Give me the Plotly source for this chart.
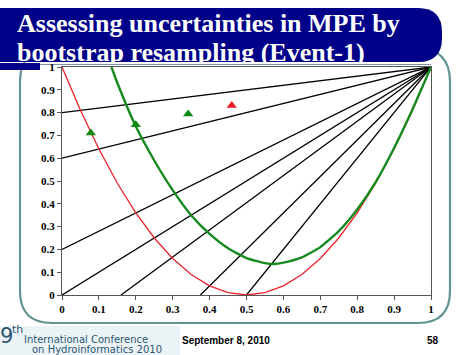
import plotly.graph_objects as go

# ---------------- data ----------------
red_x = [0, 0.05, 0.1, 0.15, 0.2, 0.25, 0.3, 0.35, 0.4, 0.45, 0.5,
         0.55, 0.6, 0.65, 0.7, 0.75, 0.8, 0.85, 0.9, 0.95, 1.0]
red_y = [1.0, 0.81, 0.64, 0.49, 0.36, 0.25, 0.16, 0.09, 0.04, 0.01, 0.0,
         0.01, 0.04, 0.09, 0.16, 0.25, 0.36, 0.49, 0.64, 0.81, 1.0]

green_x = [0.134, 0.15, 0.2, 0.25, 0.3, 0.35, 0.4, 0.45, 0.5, 0.55, 0.575,
           0.6, 0.65, 0.7, 0.75, 0.8, 0.85, 0.9, 0.95, 1.0]
green_y = [1.0, 0.93, 0.74, 0.59, 0.46, 0.35, 0.268, 0.205, 0.162, 0.14, 0.136,
           0.142, 0.165, 0.21, 0.28, 0.375, 0.495, 0.645, 0.815, 1.0]

# straight lines: start point -> common end point (1, 1)
line_start_x = [0, 0, 0, 0, 0.16, 0.375, 0.5]
line_start_y = [0.8, 0.6, 0.2, 0, 0, 0, 0]
line_end = (1.0, 1.0)

green_tri_x = [0.078, 0.2, 0.342]
green_tri_y = [0.71, 0.747, 0.794]
red_tri_x = [0.46]
red_tri_y = [0.831]

tick_vals = [0, 0.1, 0.2, 0.3, 0.4, 0.5, 0.6, 0.7, 0.8, 0.9, 1]
tick_text = ["0", "0.1", "0.2", "0.3", "0.4", "0.5", "0.6", "0.7", "0.8", "0.9", "1"]

title_lines = ["Assessing uncertainties in MPE by", "bootstrap resampling (Event-1)"]

# ---------------- layout geometry (pixels) ----------------
W, H = 474, 355
L, R, T, B = 62, 431, 67, 295


def px(x):
    return (x - L) / (R - L)


def py(y):
    return (B - y) / (B - T)


fig = go.Figure()

for sx, sy in zip(line_start_x, line_start_y):
    fig.add_trace(go.Scatter(x=[sx, line_end[0]], y=[sy, line_end[1]], mode="lines",
                             line=dict(color="black", width=1.3), showlegend=False,
                             hoverinfo="skip"))

fig.add_trace(go.Scatter(x=red_x, y=red_y, mode="lines",
                         line=dict(color="#e8242a", width=1.3), showlegend=False))
fig.add_trace(go.Scatter(x=green_x, y=green_y, mode="lines",
                         line=dict(color="#168a1e", width=2.4, shape="spline", smoothing=0.5),
                         showlegend=False))
fig.add_trace(go.Scatter(x=green_tri_x, y=green_tri_y, mode="markers",
                         marker=dict(symbol="triangle-up", size=9, color="#0e8a12"),
                         showlegend=False))
fig.add_trace(go.Scatter(x=red_tri_x, y=red_tri_y, mode="markers",
                         marker=dict(symbol="triangle-up", size=9, color="#ec1c24"),
                         showlegend=False))


def rounded_rect(x0, y0, x1, y1, r_tl, r_tr, r_br, r_bl):
    # pixel coordinates (y down) -> paper path
    pts = []
    pts.append(f"M {px(x0 + r_tl)} {py(y0)}")
    pts.append(f"L {px(x1 - r_tr)} {py(y0)}")
    pts.append(f"Q {px(x1)} {py(y0)} {px(x1)} {py(y0 + r_tr)}")
    pts.append(f"L {px(x1)} {py(y1 - r_br)}")
    pts.append(f"Q {px(x1)} {py(y1)} {px(x1 - r_br)} {py(y1)}")
    pts.append(f"L {px(x0 + r_bl)} {py(y1)}")
    pts.append(f"Q {px(x0)} {py(y1)} {px(x0)} {py(y1 - r_bl)}")
    pts.append(f"L {px(x0)} {py(y0 + r_tl)}")
    pts.append(f"Q {px(x0)} {py(y0)} {px(x0 + r_tl)} {py(y0)}")
    pts.append("Z")
    return " ".join(pts)


shapes = []
# footer light tint
shapes.append(dict(type="rect", xref="paper", yref="paper",
                   x0=px(0), x1=px(180), y0=py(355), y1=py(326),
                   fillcolor="rgba(200,220,232,0.35)", line=dict(width=0), layer="below"))
# teal frame
shapes.append(dict(type="path", xref="paper", yref="paper",
                   path=rounded_rect(20, 48, 450, 323, 34, 34, 32, 32),
                   line=dict(color="#639494", width=2.2), fillcolor="rgba(0,0,0,0)",
                   layer="below"))
# navy title box
shapes.append(dict(type="path", xref="paper", yref="paper",
                   path=rounded_rect(-10, 8, 442, 62, 0, 24, 24, 0),
                   line=dict(width=0), fillcolor="#000088", layer="above"))
# small navy bar
shapes.append(dict(type="rect", xref="paper", yref="paper",
                   x0=px(0), x1=px(40), y0=py(70), y1=py(63),
                   fillcolor="#000088", line=dict(width=0), layer="above"))
# thin rule under title
shapes.append(dict(type="line", xref="paper", yref="paper",
                   x0=px(40), x1=px(431), y0=py(64.5), y1=py(64.5),
                   line=dict(color="#8090a8", width=1), layer="below"))
fig.update_layout(shapes=shapes)

ann = []
title_font = dict(family="Liberation Serif", size=26, color="white", weight="bold")
ann.append(dict(text=title_lines[0], x=px(15), y=py(23), xref="paper", yref="paper",
                xanchor="left", yanchor="middle", showarrow=False, font=title_font))
ann.append(dict(text=title_lines[1], x=px(15), y=py(52), xref="paper", yref="paper",
                xanchor="left", yanchor="middle", showarrow=False, font=title_font,
                height=20))

foot_col = "#2a5672"
ann.append(dict(text="9", x=px(-2), y=py(336), xref="paper", yref="paper",
                xanchor="left", yanchor="middle", showarrow=False,
                font=dict(family="DejaVu Sans", size=21, color=foot_col)))
ann.append(dict(text="th", x=px(10), y=py(329), xref="paper", yref="paper",
                xanchor="left", yanchor="middle", showarrow=False,
                font=dict(family="DejaVu Sans", size=11, color=foot_col)))
ann.append(dict(text="International Conference", x=px(22), y=py(339), xref="paper",
                yref="paper", xanchor="left", yanchor="middle", showarrow=False,
                font=dict(family="DejaVu Sans", size=10, color=foot_col)))
ann.append(dict(text="on Hydroinformatics 2010", x=px(30), y=py(349), xref="paper",
                yref="paper", xanchor="left", yanchor="middle", showarrow=False,
                font=dict(family="DejaVu Sans", size=10, color=foot_col)))
ann.append(dict(text="September 8, 2010", x=px(180), y=py(340), xref="paper",
                yref="paper", xanchor="left", yanchor="middle", showarrow=False,
                font=dict(family="Liberation Sans", size=10, color="black", weight="bold")))
ann.append(dict(text="58", x=px(441), y=py(340), xref="paper",
                yref="paper", xanchor="right", yanchor="middle", showarrow=False,
                font=dict(family="Liberation Sans", size=10, color="black", weight="bold")))
fig.update_layout(annotations=ann)

tick_font = dict(family="Liberation Serif", size=11, color="black", weight="bold")
axis_common = dict(range=[0, 1], tickmode="array", tickvals=tick_vals, ticktext=tick_text,
                   showgrid=False, zeroline=False, showline=True, linecolor="#555555",
                   linewidth=1, mirror=True, ticks="outside", ticklen=4, tickcolor="#555555",
                   tickfont=tick_font, fixedrange=True)
fig.update_xaxes(**axis_common)
fig.update_yaxes(**axis_common)

fig.update_layout(width=W, height=H, autosize=False,
                  margin=dict(l=L, r=W - R, t=T, b=H - B, pad=0),
                  paper_bgcolor="white", plot_bgcolor="white",
                  showlegend=False)

fig.write_html("out.html", config={"displayModeBar": False},
               post_script="document.body.style.margin='0';document.body.style.overflow='hidden';")
